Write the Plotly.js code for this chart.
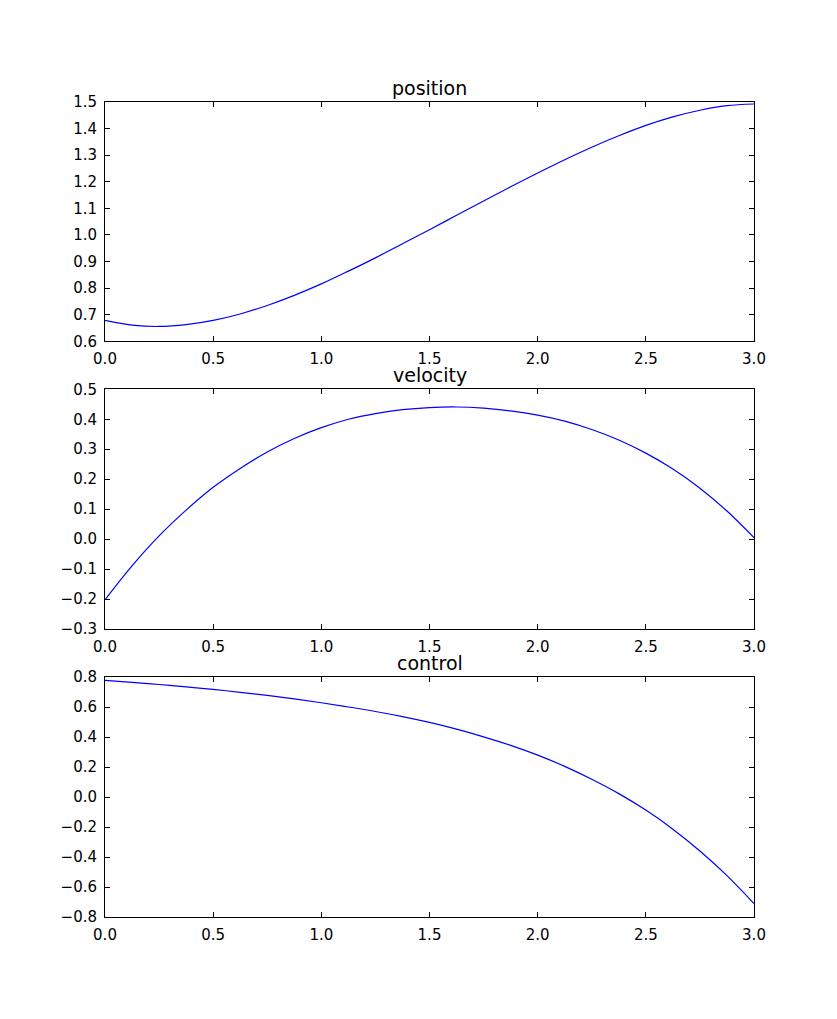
<!DOCTYPE html>
<html>
<head>
<meta charset="utf-8">
<script src="https://cdn.plot.ly/plotly-3.0.1.min.js"></script>
<style>
html,body{margin:0;padding:0;background:#fff;}
#chart{width:837px;height:1019px;}
</style>
</head>
<body>
<div id="chart"></div>
<script>
// time grid (x) shared by all three panels
const time = [0, 0.125, 0.25, 0.375, 0.5, 0.625, 0.75, 0.875, 1.0, 1.125, 1.25, 1.375, 1.5,
              1.625, 1.75, 1.875, 2.0, 2.125, 2.25, 2.375, 2.5, 2.625, 2.75, 2.875, 3.0];
const position = [0.679, 0.661, 0.656, 0.663, 0.679, 0.703, 0.735, 0.773, 0.816, 0.864, 0.914, 0.967, 1.020,
                  1.074, 1.128, 1.181, 1.233, 1.283, 1.330, 1.373, 1.412, 1.444, 1.469, 1.486, 1.4925];
const velocity = [-0.202, -0.089, 0.011, 0.097, 0.173, 0.236, 0.291, 0.336, 0.372, 0.400, 0.419, 0.432, 0.439,
                  0.441, 0.437, 0.428, 0.414, 0.394, 0.366, 0.331, 0.287, 0.234, 0.170, 0.094, 0.005];
const control = [0.778, 0.765, 0.751, 0.735, 0.718, 0.699, 0.678, 0.655, 0.629, 0.601, 0.571, 0.537, 0.498,
                 0.453, 0.402, 0.345, 0.280, 0.205, 0.119, 0.023, -0.087, -0.214, -0.360, -0.524, -0.710];

const titles = ["position", "velocity", "control"];
const xTicks = [0, 0.5, 1.0, 1.5, 2.0, 2.5, 3.0];
const xTickText = ["0.0", "0.5", "1.0", "1.5", "2.0", "2.5", "3.0"];
const posTicks = [0.6, 0.7, 0.8, 0.9, 1.0, 1.1, 1.2, 1.3, 1.4, 1.5];
const velTicks = [-0.3, -0.2, -0.1, 0.0, 0.1, 0.2, 0.3, 0.4, 0.5];
const ctlTicks = [-0.8, -0.6, -0.4, -0.2, 0.0, 0.2, 0.4, 0.6, 0.8];

const FONT = "DejaVu Sans, Liberation Sans, sans-serif";
const fmtTick = v => (v < 0 ? "\u2212" : "") + Math.abs(v).toFixed(1);

function line(y, xa, ya) {
  return {x: time, y: y, xaxis: xa, yaxis: ya, type: "scatter", mode: "lines",
    line: {color: "#0000ff", width: 1.2, shape: "spline", smoothing: 1.0},
    hoverinfo: "skip", showlegend: false};
}

const data = [line(position, "x", "y"), line(velocity, "x2", "y2"), line(control, "x3", "y3")];

function xAxis(anchor) {
  return {anchor: anchor, domain: [0, 1], range: [0, 3], tickvals: xTicks, ticktext: xTickText,
    ticks: "inside", ticklen: 5, tickwidth: 1, tickcolor: "#000", showline: true, linecolor: "#000",
    linewidth: 1, mirror: "allticks", showgrid: false, zeroline: false,
    tickfont: {family: FONT, size: 15, color: "#000"}, ticklabelstandoff: 4};
}
function yAxis(anchor, dom, rng, tv) {
  return {anchor: anchor, domain: dom, range: rng, tickvals: tv, ticktext: tv.map(fmtTick),
    ticks: "inside", ticklen: 5, tickwidth: 1, tickcolor: "#000", showline: true, linecolor: "#000",
    linewidth: 1, mirror: "allticks", showgrid: false, zeroline: false,
    tickfont: {family: FONT, size: 15, color: "#000"}, ticklabelstandoff: 4};
}

const dTop = [0.7063, 1], dMid = [0.3532, 0.6475], dBot = [0, 0.2943];

const layout = {
  width: 837, height: 1019,
  margin: {l: 105, r: 82.5, t: 101.5, b: 102, pad: 0},
  paper_bgcolor: "#fff", plot_bgcolor: "#fff",
  font: {family: FONT, color: "#000"},
  xaxis: xAxis("y"), yaxis: yAxis("x", dTop, [0.6, 1.5], posTicks),
  xaxis2: xAxis("y2"), yaxis2: yAxis("x2", dMid, [-0.3, 0.5], velTicks),
  xaxis3: xAxis("y3"), yaxis3: yAxis("x3", dBot, [-0.8, 0.8], ctlTicks),
  annotations: [dTop, dMid, dBot].map((d, i) => ({
    text: titles[i], xref: "paper", yref: "paper", x: 0.5, y: d[1],
    xanchor: "center", yanchor: "bottom", yshift: 1, showarrow: false,
    font: {family: FONT, size: 19, color: "#000"}
  }))
};

Plotly.newPlot("chart", data, layout, {staticPlot: true, displayModeBar: false});
</script>
</body>
</html>
